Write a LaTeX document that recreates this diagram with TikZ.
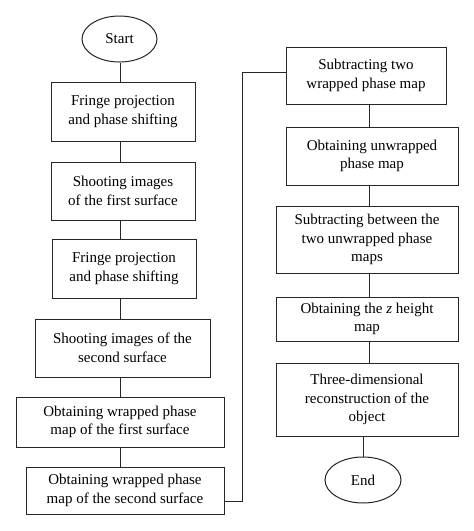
\documentclass[tikz,border=0pt]{standalone}
\usepackage{fontspec}
\setmainfont{Liberation Serif}
\usetikzlibrary{shapes.geometric}
\tikzset{
	procbox/.style={draw, rectangle, align=center, inner sep=0pt, font=\fontsize{15}{18.5}\selectfont},
	termnode/.style={draw, ellipse, inner sep=0pt, font=\fontsize{15}{18.5}\selectfont},
}
\begin{document}
\begin{tikzpicture}[x=1pt, y=-1pt, line width=1pt, draw=black!85]
	\useasboundingbox (0,0) rectangle (474,531);
	% left column
	\node [termnode, minimum width=75pt, minimum height=46pt] (start) at (119.5,39) {Start};
	\node [procbox, minimum width=144pt, minimum height=59pt] (b1) at (123,111.5) {Fringe projection\\and phase shifting};
	\node [procbox, minimum width=144pt, minimum height=58pt] (b2) at (123,191) {Shooting images\\of the first surface};
	\node [procbox, minimum width=144pt, minimum height=59pt] (b3) at (124,268.5) {Fringe projection\\and phase shifting};
	\node [procbox, minimum width=175pt, minimum height=58pt] (b4) at (122.5,348) {Shooting images of the\\second surface};
	\node [procbox, minimum width=208pt, minimum height=50pt] (b5) at (120,422) {Obtaining wrapped phase\\map of the first surface};
	\node [procbox, minimum width=198pt, minimum height=47pt] (b6) at (125,490.5) {Obtaining wrapped phase\\map of the second surface};
	% right column
	\node [procbox, minimum width=160pt, minimum height=57pt] (b7) at (366,75.5) {Subtracting two\\wrapped phase map};
	\node [procbox, minimum width=172pt, minimum height=58pt] (b8) at (372,156) {Obtaining unwrapped\\phase map};
	\node [procbox, minimum width=182pt, minimum height=67pt] (b9) at (367,239.5) {Subtracting between the\\two unwrapped phase\\maps};
	\node [procbox, minimum width=182pt, minimum height=44pt] (b10) at (367,319) {Obtaining the \textit{z} height\\map};
	\node [procbox, minimum width=182pt, minimum height=73pt] (b11) at (367,399.5) {Three-dimensional\\reconstruction of the\\object};
	\node [termnode, minimum width=76pt, minimum height=46pt] (end) at (363,480) {End};
	% connectors
	\coordinate (lx) at (120,0);
	\coordinate (rx) at (369,0);
	\coordinate (jx) at (242.5,72);
	\foreach \a/\b in {start/b1, b1/b2, b2/b3, b3/b4, b4/b5, b5/b6}
		\draw (\a.south -| lx) -- (\b.north -| lx);
	\foreach \a/\b in {b7/b8, b8/b9, b9/b10, b10/b11}
		\draw (\a.south -| rx) -- (\b.north -| rx);
	\draw (end.north |- b11.south) -- (end.north);
	\draw ([yshift=-10.5pt]b6.east) -| (jx) -- ([yshift=3.5pt]b7.west);
\end{tikzpicture}
\end{document}
